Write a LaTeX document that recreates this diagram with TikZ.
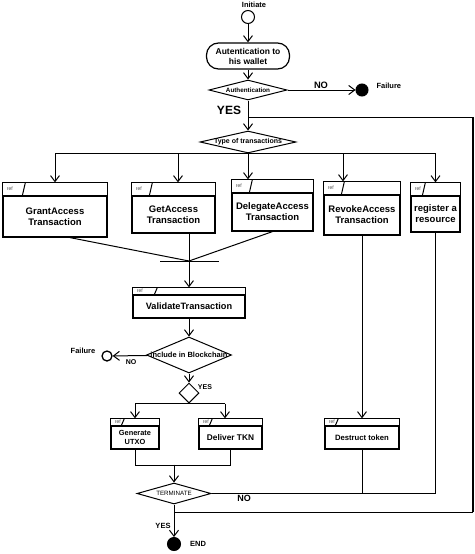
\documentclass[tikz,border=0pt]{standalone}
\usepackage{fontspec}
\setmainfont{Liberation Sans}
\usetikzlibrary{arrows.meta,shapes.geometric,positioning}

\begin{document}
\begin{tikzpicture}[x=1pt,y=-1pt,
        line width=1pt,
        arr/.style={-{Straight Barb[length=6pt,width=9pt]}},
        act/.style={draw,line width=1.2pt,inner sep=0pt,align=center,
            font=\bfseries\fontsize{9.5}{11}\selectfont},
        decision/.style={draw,diamond,inner sep=0pt,
            execute at begin node={\hbox to 0pt\bgroup\hss},
            execute at end node={\hss\egroup}},
        note/.style={font=\bfseries\fontsize{7.5}{9}\selectfont,inner sep=0pt},
        reftag/.style={font=\fontsize{5}{5}\selectfont,text=black!70,inner sep=0pt,anchor=west},
        startend/.style={circle,draw,inner sep=0pt,minimum size=#1}]
    \fill[white] (0,0) rectangle (474,554);
    \useasboundingbox (0,0) rectangle (474,554);

    % start and authentication
    \node[note] (initlbl) at (254,5) {Initiate};
    \node[startend=13] (init) at (248,17) {};
    \node[act,rounded corners=12pt,minimum width=83,minimum height=26,
        font=\bfseries\fontsize{8.5}{10}\selectfont] (wallet) at (248,56) {Autentication to\\his wallet};
    \node[decision,minimum width=78,minimum height=20,
        font=\bfseries\fontsize{6.3}{7}\selectfont] (auth) at (248,90) {Authentication};
    \node[startend=12,fill=black] (fail1) at (362,90) {};
    \node[note,anchor=west] (fail1lbl) at (376,86) {Failure};
    \node[note,font=\bfseries\fontsize{9.3}{10}\selectfont] (no1) at (321,85) {NO};
    \node[note,font=\bfseries\fontsize{12}{13}\selectfont] (yes1) at (229,110) {YES};
    \coordinate (loopne) at (473,117);
    \coordinate (loopse) at (473,512);

    \node[decision,minimum width=96,minimum height=22,
        font=\bfseries\fontsize{7}{8}\selectfont] (type) at (248,142) {Type of transactions};

    % transactions
    \node[act,minimum width=104,minimum height=41] (grant) at (55,216.5) {GrantAccess\\Transaction};
    \node[act,minimum width=83,minimum height=37] (get) at (173.5,214.5) {GetAccess\\Transaction};
    \node[act,minimum width=81,minimum height=38] (delegate) at (272.5,212) {DelegateAccess\\Transaction};
    \node[act,minimum width=76,minimum height=40] (revoke) at (362,215) {RevokeAccess\\Transaction};
    \node[act,minimum width=49,minimum height=36] (register) at (435.5,214) {register a\\resource};

    \node[fill=black,minimum width=59,minimum height=1,inner sep=0pt] (join) at (189,261) {};
    \node[act,minimum width=112,minimum height=23,
        font=\bfseries\fontsize{9.2}{11}\selectfont] (validate) at (189,306.5) {ValidateTransaction};
    \node[decision,minimum width=85,minimum height=36,
        font=\bfseries\fontsize{7.5}{9}\selectfont] (chain) at (189,355) {include in Blockchain};
    \node[startend=10,line width=1.3pt] (fail2) at (107,356) {};
    \node[note] (fail2lbl) at (83,351) {Failure};
    \node[note,font=\bfseries\fontsize{7}{8}\selectfont] (no2) at (131,362) {NO};
    \node[decision,minimum width=20,minimum height=20] (merge) at (189,393) {};
    \node[note,font=\bfseries\fontsize{7}{8}\selectfont] (yes2) at (205,387) {YES};

    \node[act,minimum width=48,minimum height=23,
        font=\bfseries\fontsize{7.4}{8.5}\selectfont] (utxo) at (135,437.5) {Generate\\UTXO};
    \node[act,minimum width=63,minimum height=23,
        font=\bfseries\fontsize{8.3}{10}\selectfont] (tkn) at (230.5,437.5) {Deliver TKN};
    \node[act,minimum width=74,minimum height=23,
        font=\bfseries\fontsize{7.7}{9}\selectfont] (destruct) at (362,437.5) {Destruct token};

    \node[decision,minimum width=74,minimum height=21,
        font=\fontsize{6.2}{7}\selectfont] (term) at (174,493.5) {TERMINATE};
    \node[note,font=\bfseries\fontsize{9}{10}\selectfont] (no3) at (244,498) {NO};
    \node[note] (yes3) at (163,526) {YES};
    \node[startend=13,fill=black] (end) at (174,544) {};
    \node[note] (endlbl) at (198,544) {END};

    % ref headers
    \foreach \b/\h/\s in {grant/13/20,get/13/18,delegate/13/18,revoke/13/18,register/13/12,
            validate/7/22,utxo/7/11,tkn/7/11,destruct/7/11} {
        \draw[line width=1.2pt] ([yshift=\h]\b.north west) rectangle (\b.north east);
        \draw ([xshift=\s+3,yshift=\h]\b.north west) -- ([xshift=\s]\b.north west);
        \node[reftag] (\b-ref) at ([xshift=4,yshift=\h/2]\b.north west) {ref};
        \coordinate (\b-top) at ([yshift=\h]\b.north);
    }

    % connectors
    \draw[arr] (init) -- (wallet);
    \draw[arr] (wallet) -- (auth);
    \draw[arr] (auth) -- (fail1);
    \draw[arr] (auth.south) -- (type.north);
    \draw (auth.south |- loopne) -- (loopne);
    \draw[line width=1.6pt] (loopne) -- (loopse);
    \draw (loopse) -- (term.south |- loopse);

    \draw (grant-top |- type.south) -- (register-top |- type.south);
    \draw[arr] (grant-top |- type.south) -- (grant-top);
    \draw[arr] ([xshift=4.5]get-top |- type.south) -- ([xshift=4.5]get-top);
    \draw[arr] (type.south) -- (type.south |- delegate-top);
    \draw[arr] ([xshift=-19]revoke-top |- type.south) -- ([xshift=-19]revoke-top);
    \draw[arr] (register-top |- type.south) -- (register-top);

    \draw ([xshift=15]grant.south) -- (join.center);
    \draw (get.south -| join) -- (join.center);
    \draw (delegate.south) -- (join.center);
    \draw[arr] (join.center) -- (validate-top);
    \draw[arr] (validate) -- (chain);
    \draw[arr] (chain) -- (fail2);
    \draw[arr] (chain) -- (merge);

    \draw (utxo-top |- merge.south) -- ([xshift=-5.5]tkn-top |- merge.south);
    \draw[arr] (utxo-top |- merge.south) -- (utxo-top);
    \draw[arr] ([xshift=-5.5]tkn-top |- merge.south) -- ([xshift=-5.5]tkn-top);
    \draw (utxo.south) -- ++(0,16) -| (tkn.south);
    \draw[arr] ([yshift=18]term.north) -- (term.north);

    \draw[arr] (revoke.south) -- (destruct-top);
    \draw (destruct.south) -- (destruct.south |- term.east);
    \draw (register.south) -- (register.south |- term.east);
    \draw (term.east) -- (register.south |- term.east);
    \draw[arr] (term) -- (end);
\end{tikzpicture}
\end{document}
